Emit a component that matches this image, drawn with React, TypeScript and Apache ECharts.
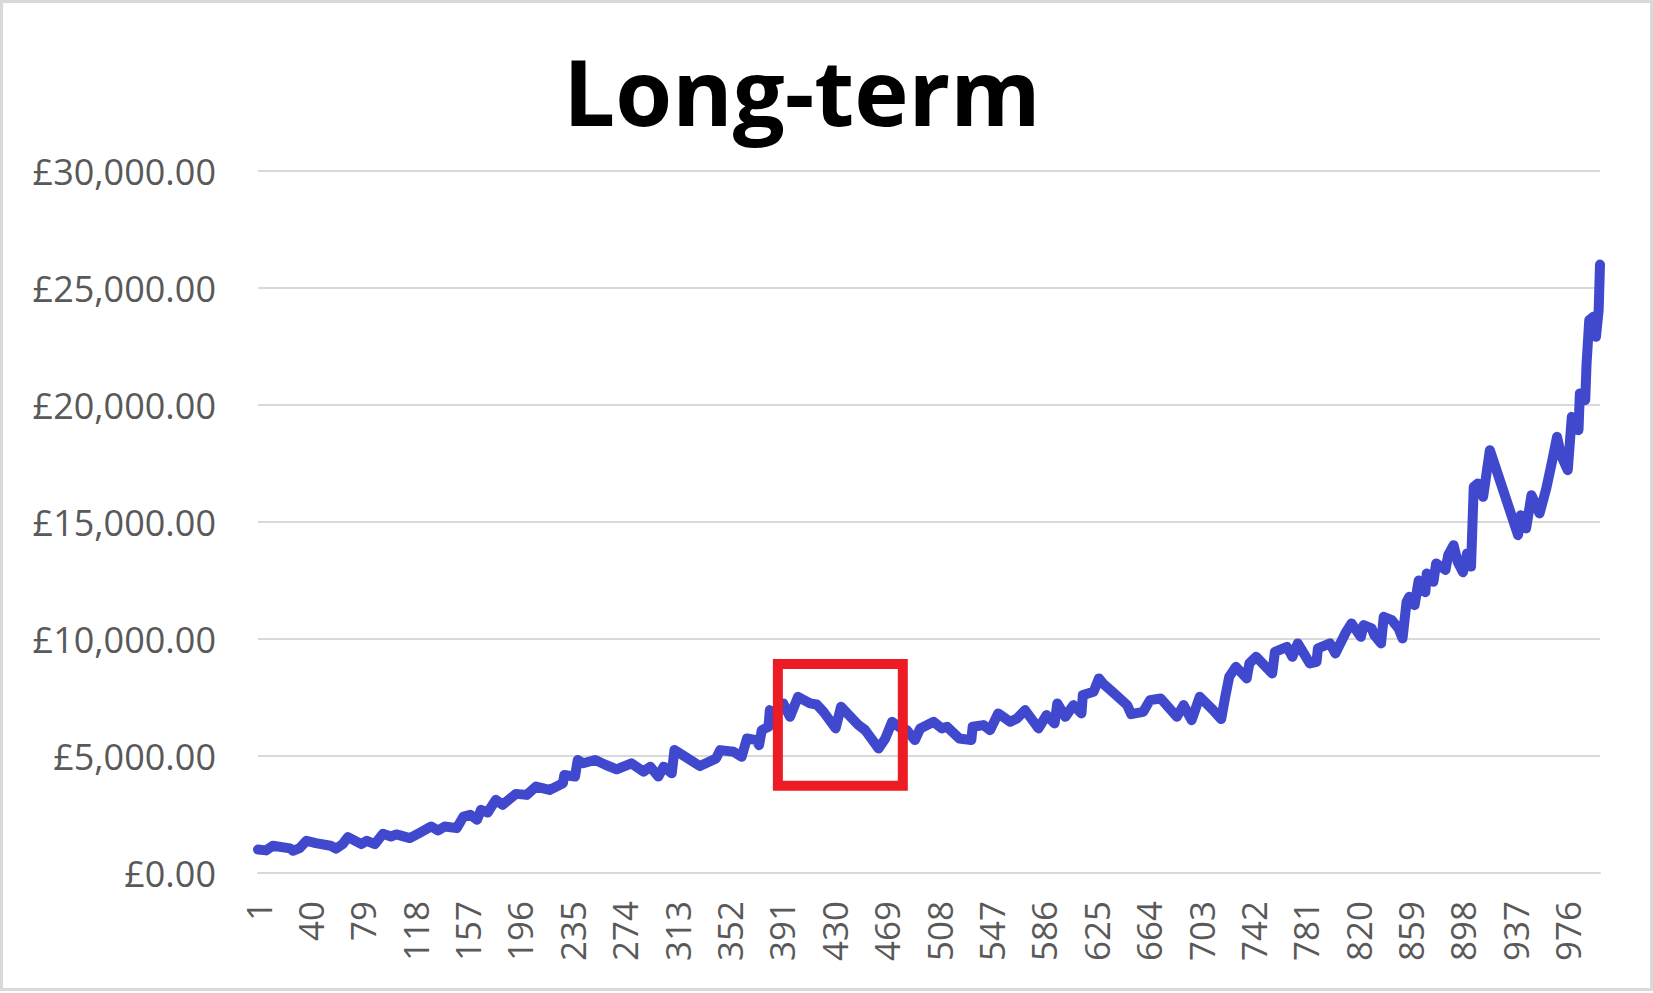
import React, { useEffect, useRef } from "react";
import * as echarts from "echarts";

// Category labels (days 1..1000) shown every 39th, like the reference axis
const categories: string[] = Array.from({ length: 1000 }, (_, i) => String(i + 1));

// Vertices of the value line (day number, value in £)
const days: number[] = [
  1, 7, 12, 25, 27, 32, 37, 44, 55, 59, 64, 68, 78, 82, 88, 94, 100, 104, 114, 121,
  130, 135, 140, 149, 154, 159, 164, 167, 172, 178, 183, 193, 201, 208, 218, 228, 229, 237, 239, 243,
  252, 260, 268, 279, 288, 293, 299, 303, 309, 311, 317, 330, 342, 345, 355, 361, 365, 372, 374, 376,
  381, 382, 385, 392, 397, 403, 412, 417, 422, 431, 435, 448, 453, 463, 468, 473, 478, 484, 490, 494,
  504, 510, 514, 523, 532, 533, 541, 546, 552, 561, 566, 572, 582, 588, 594, 596, 602, 608, 614, 615,
  623, 627, 630, 637, 648, 651, 660, 665, 673, 685, 690, 696, 702, 712, 718, 721, 724, 729, 737, 739,
  744, 756, 758, 767, 771, 775, 784, 789, 790, 799, 803, 811, 815, 822, 824, 830, 832, 837, 839, 845,
  850, 853, 856, 858, 862, 865, 870, 871, 876, 878, 885, 887, 891, 894, 898, 901, 904, 906, 909, 913,
  918, 939, 941, 945, 949, 955, 960, 964, 968, 971, 976, 979, 984, 985, 989, 990, 992, 995, 997, 999,
  1000,
];
const values: number[] = [
  1000, 966, 1165, 1051, 950, 1065, 1378, 1278, 1165, 1037, 1236, 1534, 1236, 1378, 1236, 1676, 1562, 1648, 1491, 1705,
  1989, 1818, 1989, 1918, 2415, 2486, 2273, 2699, 2585, 3125, 2912, 3381, 3338, 3693, 3551, 3835, 4190, 4119, 4830, 4688,
  4830, 4616, 4432, 4688, 4332, 4545, 4119, 4545, 4261, 5256, 5043, 4568, 4897, 5252, 5180, 4966, 5751, 5679, 5465, 6106,
  6248, 6961, 6675, 7247, 6675, 7530, 7247, 7200, 6888, 6179, 7102, 6320, 6106, 5324, 5751, 6461, 6248, 6106, 5679, 6179,
  6461, 6179, 6248, 5751, 5679, 6248, 6320, 6106, 6819, 6461, 6606, 6961, 6179, 6747, 6392, 7247, 6675, 7174, 6819, 7602,
  7743, 8315, 8101, 7743, 7174, 6790, 6888, 7388, 7460, 6675, 7174, 6533, 7530, 6961, 6580, 7530, 8384, 8811, 8315, 8956,
  9239, 8529, 9452, 9666, 9239, 9811, 8956, 9025, 9597, 9811, 9383, 10306, 10665, 10093, 10593, 10451, 10165, 9811, 10947, 10806,
  10451, 10024, 11588, 11802, 11447, 12500, 12000, 12801, 12443, 13229, 12950, 13584, 14011, 13300, 12850, 13656, 13100, 16500, 16646, 16075,
  18071, 14438, 15293, 14724, 16147, 15365, 16433, 17502, 18638, 17856, 17216, 19493, 18925, 20493, 20207, 21775, 23625, 23767, 22912, 24052,
  26000,
];

// Highlighted window (red box): day range and value range
const highlightDays: number[] = [388, 481];
const highlightValues: number[] = [3730, 8930];

const TITLE = "Long-term";

export default function App() {
  const ref = useRef<HTMLDivElement>(null);

  useEffect(() => {
    if (!ref.current) return;
    const chart = echarts.init(ref.current, undefined, { renderer: "svg" });
    const seriesData = days.map((d, i) => [String(d), values[i]]);
    const fmt = (v: number) =>
      "£" + v.toLocaleString("en-GB", { minimumFractionDigits: 2, maximumFractionDigits: 2 });

    chart.setOption({
      animation: false,
      backgroundColor: "#ffffff",
      grid: {
        left: 258,
        right: 53,
        top: 171,
        bottom: 120,
        containLabel: false,
        outerBoundsMode: "none",
      },
      graphic: [
        {
          type: "rect",
          shape: { x: 1.5, y: 1.5, width: 1650, height: 988 },
          style: { fill: "none", stroke: "#D9D9D9", lineWidth: 3 },
          silent: true,
        },
        {
          type: "text",
          x: 802,
          y: 44,
          style: {
            text: TITLE,
            font: 'bold 92px "Open Sans"',
            fill: "#000000",
            textAlign: "center",
            textVerticalAlign: "top",
          },
          silent: true,
        },
      ],
      xAxis: {
        type: "category",
        data: categories,
        boundaryGap: false,
        axisLine: { show: true, lineStyle: { color: "#D9D9D9", width: 2 } },
        axisTick: { show: false },
        splitLine: { show: false },
        axisLabel: {
          interval: 38,
          rotate: 90,
          margin: 28,
          color: "#595959",
          fontFamily: "Open Sans",
          fontSize: 35,
        },
      },
      yAxis: {
        type: "value",
        min: 0,
        max: 30000,
        interval: 5000,
        axisLine: { show: false },
        axisTick: { show: false },
        splitLine: { show: true, lineStyle: { color: "#D9D9D9", width: 2 } },
        axisLabel: {
          formatter: (v: number) => fmt(v),
          margin: 42,
          color: "#595959",
          fontFamily: "Open Sans",
          fontSize: 36,
        },
      },
      series: [
        {
          type: "line",
          data: seriesData,
          symbol: "none",
          smooth: false,
          lineStyle: { color: "#4049CD", width: 10, cap: "round", join: "round" },
          markArea: {
            silent: true,
            z: 10,
            itemStyle: {
              color: "rgba(0,0,0,0)",
              borderColor: "#ED1C24",
              borderWidth: 10,
            },
            data: [
              [
                { coord: [String(highlightDays[0]), highlightValues[0]] },
                { coord: [String(highlightDays[1]), highlightValues[1]] },
              ],
            ],
          },
        },
      ],
    });

    return () => chart.dispose();
  }, []);

  return (
    <div
      ref={ref}
      style={{
        position: "fixed",
        left: 0,
        top: 0,
        width: 1653,
        height: 993,
        background: "#ffffff",
      }}
    />
  );
}
